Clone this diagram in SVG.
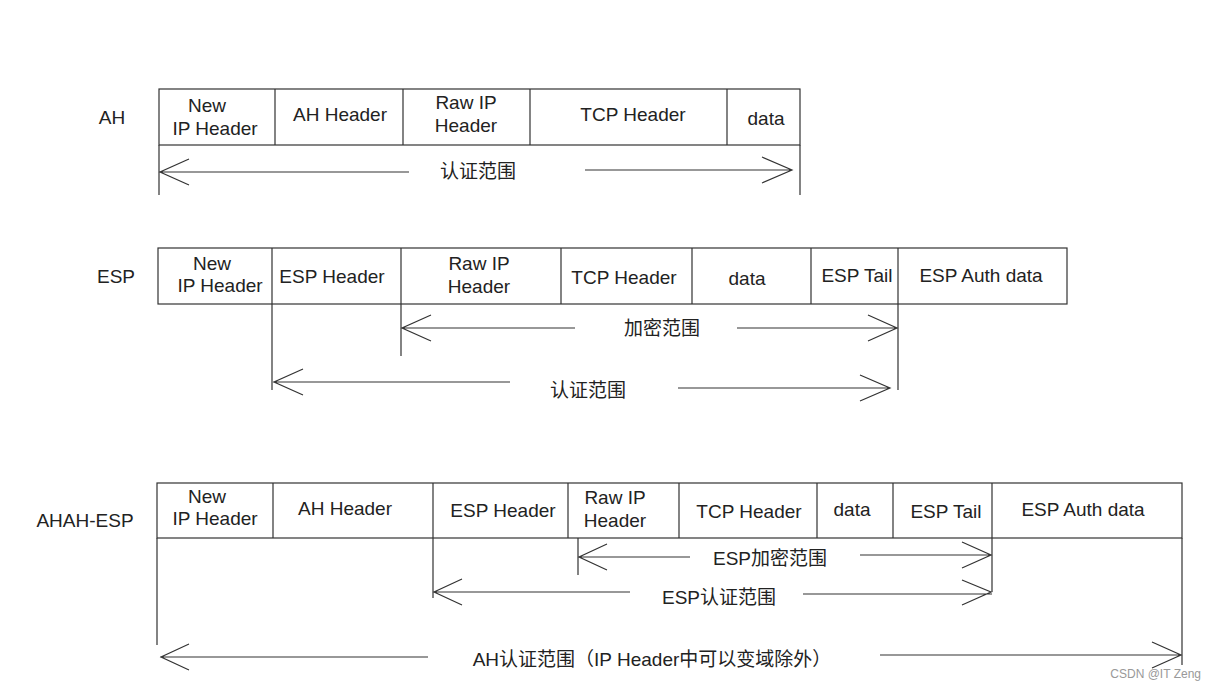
<svg xmlns="http://www.w3.org/2000/svg" width="1217" height="690" viewBox="0 0 1217 690">
<style>
.b{fill:#fff;stroke:#333;stroke-width:1.2}
.l{stroke:#333;stroke-width:1.2;fill:none}
text{font-family:"Liberation Sans","Noto Sans CJK SC",sans-serif;font-size:19px;fill:#222;text-anchor:middle}
.w{font-size:12px;fill:#999;text-anchor:end}
</style>
<rect width="1217" height="690" fill="#fff"/>
<g id="row-ah">
<text x="112" y="124">AH</text>
<rect class="b" x="159" y="89" width="641" height="56"/>
<path class="l" d="M275 89V145M403 89V145M530 89V145M727 89V145"/>
<text x="207" y="112">New</text><text x="215" y="135">IP Header</text>
<text x="340" y="121">AH Header</text>
<text x="466" y="109">Raw IP</text><text x="466" y="132">Header</text>
<text x="633" y="121">TCP Header</text>
<text x="766" y="125">data</text>
</g>
<g id="row-esp">
<text x="116" y="283">ESP</text>
<rect class="b" x="158" y="248" width="909" height="56"/>
<path class="l" d="M272 248V304M401 248V304M561 248V304M692 248V304M811 248V304M898 248V304"/>
<text x="212" y="270">New</text><text x="220" y="292">IP Header</text>
<text x="332" y="283">ESP Header</text>
<text x="479" y="270">Raw IP</text><text x="479" y="293">Header</text>
<text x="624" y="284">TCP Header</text>
<text x="747" y="285">data</text>
<text x="857" y="282">ESP Tail</text>
<text x="981" y="282">ESP Auth data</text>
</g>
<g id="row-ahesp">
<text x="85" y="527">AHAH-ESP</text>
<rect class="b" x="157" y="483" width="1025" height="55"/>
<path class="l" d="M273 483V538M433 483V538M568 483V538M679 483V538M817 483V538M893 483V538M992 483V538"/>
<text x="207" y="503">New</text><text x="215" y="525">IP Header</text>
<text x="345" y="515">AH Header</text>
<text x="503" y="517">ESP Header</text>
<text x="615" y="504">Raw IP</text><text x="615" y="527">Header</text>
<text x="749" y="518">TCP Header</text>
<text x="852" y="516">data</text>
<text x="946" y="518">ESP Tail</text>
<text x="1083" y="516">ESP Auth data</text>
</g>
<g id="connectors">
<path class="l" d="M159 145V195M800 145V195"/>
<path class="l" d="M159 172H409M585 170H792M189 159L160 172L189 185M762 157L792 170L762 183"/>
<text x="478" y="178">认证范围</text>
<path class="l" d="M272 304V390M401 304V356M898 304V390"/>
<path class="l" d="M401 328H575M737 328H898M431 315L402 328L431 341M868 315L897 328L868 341"/>
<text x="662" y="335">加密范围</text>
<path class="l" d="M273 382H510M678 388H890M303 369L274 382L303 395M860 375L890 388L860 401"/>
<text x="588" y="397">认证范围</text>
<path class="l" d="M157 538V645M433 538V598M578 538V575M992 538V592M1182 538V665"/>
<path class="l" d="M578 557H690M860 555H992M607 544L579 557L607 570M962 542L991 555L962 568"/>
<text x="770" y="565">ESP加密范围</text>
<path class="l" d="M433 592H630M803 594H992M462 579L434 592L462 605M962 580L991 592L962 605"/>
<text x="719" y="604">ESP认证范围</text>
<path class="l" d="M160 657H428M880 655H1182M189 644L161 657L189 670M1152 642L1181 655L1152 668"/>
<text x="652" y="666">AH认证范围（IP Header中可以变域除外）</text>
</g>
<text class="w" x="1201" y="678">CSDN @IT Zeng</text>
</svg>
